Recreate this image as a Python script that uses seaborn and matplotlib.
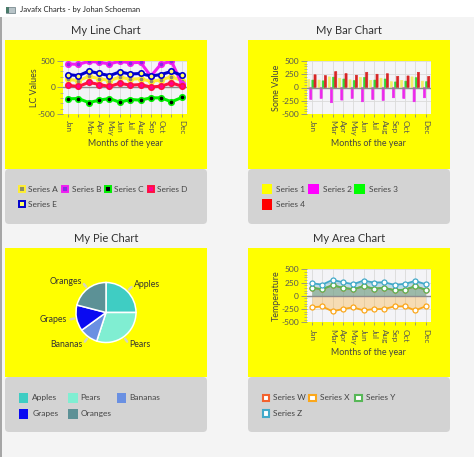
import numpy as np
import pandas as pd
import matplotlib
matplotlib.use("Agg")
import matplotlib.pyplot as plt
import seaborn as sns
from matplotlib.patches import Rectangle, FancyBboxPatch
from matplotlib.ticker import MultipleLocator

plt.rcParams['font.family'] = ['Lato', 'DejaVu Sans']

# ---------------- data ----------------
months = ['Jan', 'Feb', 'Mar', 'Apr', 'May', 'Jun', 'Jul', 'Aug', 'Sep', 'Oct', 'Nov', 'Dec']
month_ticks = ['Jan', '', 'Mar', 'Apr', 'May', 'Jun', 'Jul', 'Aug', 'Sep', 'Oct', '', 'Dec']

line_names = ['Series A', 'Series B', 'Series C', 'Series D', 'Series E']
line_a = [150, 125, 205, 165, 125, 195, 150, 165, 110, 140, 200, 125]
line_b = [440, 430, 490, 470, 440, 490, 460, 470, 210, 440, 490, 60]
line_c = [-215, -210, -287, -240, -210, -280, -228, -240, -197, -197, -272, -190]
line_d = [38, 16, 94, 53, 16, 78, 40, 53, 6, 22, 84, 22]
line_e = [240, 218, 305, 260, 220, 290, 250, 260, 212, 240, 300, 225]

bar_names = ['Series 1', 'Series 2', 'Series 3', 'Series 4']
bar_s1 = [150, 140, 200, 175, 145, 190, 135, 175, 110, 135, 200, 120]
bar_s2 = [-225, -206, -287, -237, -206, -269, -225, -244, -194, -206, -269, -194]
bar_s3 = [140, 125, 195, 160, 130, 190, 140, 160, 105, 120, 185, 110]
bar_s4 = [240, 225, 300, 262, 232, 287, 250, 260, 212, 218, 287, 210]

fruits = ['Apples', 'Pears', 'Bananas', 'Grapes', 'Oranges']
fruit_values = [25, 30, 10, 14, 21]

area_names = ['Series W', 'Series X', 'Series Y', 'Series Z']
area_w = [150, 125, 200, 150, 125, 180, 135, 150, 105, 115, 180, 115]
area_x = [-219, -200, -294, -250, -219, -275, -250, -250, -200, -200, -275, -200]
area_y = [150, 125, 200, 150, 125, 180, 135, 150, 105, 115, 180, 115]
area_z = [237, 210, 300, 256, 219, 287, 250, 256, 206, 225, 281, 219]

# ---------------- figure ----------------
W, H = 474, 457
fig = plt.figure(figsize=(W / 100, H / 100), dpi=100)
fig.patch.set_facecolor('#f4f4f4')


def px_axes(x, y, w, h, **kw):
    return fig.add_axes([x / W, 1 - (y + h) / H, w / W, h / H], **kw)


bg = px_axes(0, 0, W, H)
bg.set_xlim(0, W)
bg.set_ylim(H, 0)
bg.axis('off')

# window chrome
bg.add_patch(Rectangle((0, 0), W, 17, fc='white', ec='none'))
bg.add_patch(Rectangle((6, 7), 9, 6, fc='#b8c4c8', ec='#7a8a90', lw=0.6))
bg.add_patch(Rectangle((6, 7), 3, 6, fc='#4a7a6a', ec='none'))
bg.text(20, 9.5, 'Javafx Charts - by Johan Schoeman', fontsize=5.6, color='#222222',
        ha='left', va='center')
bg.add_patch(Rectangle((0, 17), 2.5, H - 17, fc='#a6a6a6', ec='none'))

TXT = '#333333'
panels = [(5, 40, 'My Line Chart'), (248, 40, 'My Bar Chart'),
          (5, 248, 'My Pie Chart'), (248, 248, 'My Area Chart')]
for (px, py, title) in panels:
    bg.add_patch(Rectangle((px, py), 202, 129, fc='#ffff00', ec='none'))
    bg.add_patch(FancyBboxPatch((px, py + 129), 202, 55,
                                boxstyle='round,pad=0,rounding_size=4',
                                fc='#d3d3d3', ec='none'))
    bg.text(px + 101, py - 9, title, fontsize=8, color=TXT, ha='center', va='center')


def style_axes(ax, yticks, ylabel, ylab_x):
    ax.set_facecolor('#f4f4f7')
    ax.set_xlim(-0.5, 11.5)
    ax.set_ylim(-500, 500)
    ax.set_xticks(range(12))
    ax.set_xticklabels(month_ticks, rotation=-90, fontsize=5.9, color='#555555')
    ax.set_yticks(yticks)
    ax.set_yticklabels([str(v) for v in yticks], fontsize=6, color='#555555')
    ax.yaxis.set_minor_locator(MultipleLocator(100 if len(yticks) == 3 else 50))
    ax.tick_params(axis='y', which='major', length=4, width=0.6, color='#8a8a8a', pad=1.5)
    ax.tick_params(axis='y', which='minor', length=2, width=0.5, color='#9a9a9a')
    ax.tick_params(axis='x', which='major', length=2.5, width=0.6, color='#8a8a8a', pad=2)
    ax.grid(True, which='major', color='#dadada', lw=0.6)
    ax.set_axisbelow(True)
    for s in ax.spines.values():
        s.set_visible(False)
    ax.axhline(0, color='#8c8c8c', lw=1.0, zorder=1.5)
    ax.set_xlabel('Months of the year', fontsize=6.4, color='#444444')
    ax.xaxis.set_label_coords(0.5, -30 / 53.3)
    ax.xaxis.label.set_va('center')
    ax.set_ylabel(ylabel, fontsize=6.4, color='#444444')
    ax.yaxis.set_label_coords(ylab_x, 0.5)
    ax.yaxis.label.set_va('center')
    ax.yaxis.label.set_ha('center')


idx = np.arange(len(months))

# ---------------- line chart ----------------
ax1 = px_axes(63, 60.7, 124, 53.3)
line_series = [line_a, line_b, line_c, line_d, line_e]
line_styles = [('#ffee33', '#8c8c66', '#ffee33'),
               ('#f020f0', '#8a2be2', '#f020f0'),
               ('#00ee00', '#000000', '#00ee00'),
               ('#ff1040', '#ff0090', '#ff1040'),
               ('#0000cc', '#ffff66', '#0000cc')]
for vals, (lc, mfc, mec) in zip(line_series, line_styles):
    sns.lineplot(x=idx, y=vals, ax=ax1, color=lc, lw=2.2, marker='o', markersize=3.9,
                 markerfacecolor=mfc, markeredgecolor=mec, markeredgewidth=1.2,
                 legend=False)
style_axes(ax1, [-500, 0, 500], 'LC Values', (35 - 63) / 124)

# legend line chart
leg_line = [(19, 189, 28.5), (62.3, 189, 71.8), (105, 189, 114.3), (147.7, 189, 157),
            (19, 204.3, 28.5)]
for name, (sx, sy, tx), (lc, mfc, mec) in zip(line_names, leg_line, line_styles):
    bg.add_patch(Rectangle((sx, sy - 3), 6, 6, fc=mfc, ec=mec, lw=1.4))
    bg.text(tx, sy, name, fontsize=6, color='#444444', ha='left', va='center')

# ---------------- bar chart ----------------
ax2 = px_axes(306.7, 61, 124, 53)
bar_colors = ['#f2ef6a', '#ec28ec', '#35d835', '#d82424']
df_bar = pd.DataFrame({
    'month': months * 4,
    'value': bar_s1 + bar_s2 + bar_s3 + bar_s4,
    'series': sum([[n] * 12 for n in bar_names], []),
})
sns.barplot(data=df_bar, x='month', y='value', hue='series', order=months,
            hue_order=bar_names, palette=bar_colors, ax=ax2, width=0.82, gap=0,
            saturation=1, legend=False, linewidth=0.45)
for p in ax2.patches:
    p.set_edgecolor(p.get_facecolor())
    p.set_snap(False)
style_axes(ax2, [-500, -250, 0, 250, 500], 'Some Value', (276.7 - 306.7) / 124)

leg_bar = [(262, 189, 276), (308.3, 189, 322.7), (354.3, 189, 368.7), (262, 204.5, 276)]
leg_bar_colors = ['#ffff00', '#ff00ff', '#00ff00', '#ff0000']
for name, (sx, sy, tx), c in zip(bar_names, leg_bar, leg_bar_colors):
    bg.add_patch(Rectangle((sx, sy - 5.2), 10.5, 10.5, fc=c, ec='none'))
    bg.text(tx, sy, name, fontsize=6, color='#444444', ha='left', va='center')

# ---------------- pie chart ----------------
cx, cy, R = 106, 312.5, 30
axp = px_axes(cx - 2 * R, cy - 2 * R, 4 * R, 4 * R)
pie_colors = ['#3fcdc3', '#80eed2', '#6a90e2', '#0a0af2', '#5c9196']
wedges, texts = axp.pie(fruit_values, labels=fruits, colors=pie_colors, startangle=90,
                        counterclock=False, labeldistance=1.32,
                        wedgeprops=dict(edgecolor='white', linewidth=1.1),
                        textprops=dict(fontsize=6.3, color='#333333'))
for w in wedges:
    ang = np.deg2rad((w.theta1 + w.theta2) / 2)
    axp.plot([1.08 * np.cos(ang), 1.2 * np.cos(ang)], [1.08 * np.sin(ang), 1.2 * np.sin(ang)],
             color='#d6d6c0', lw=1.8, solid_capstyle='round', clip_on=False)
for t in texts:
    t.set_clip_on(False)
axp.set_xlim(-2, 2)
axp.set_ylim(-2, 2)
axp.set_aspect('equal')
axp.axis('off')

leg_pie = [(19, 397.8, 32.3), (68.3, 397.8, 80.7), (116.7, 397.8, 129.3),
           (19, 413.8, 32.3), (68.3, 413.8, 80.7)]
for name, (sx, sy, tx), c in zip(fruits, leg_pie, pie_colors):
    bg.add_patch(Rectangle((sx, sy - 4.6), 9.5, 9.5, fc=c, ec='none'))
    bg.text(tx, sy, name, fontsize=6, color='#444444', ha='left', va='center')

# ---------------- area chart ----------------
ax4 = px_axes(306.7, 269.3, 124, 53)
area_series = [area_w, area_x, area_y, area_z]
area_colors = ['#f3622d', '#fba71b', '#57b757', '#41a9c9']
for vals, c in zip(area_series, area_colors):
    ax4.fill_between(idx, 0, vals, color=c, alpha=0.3, lw=0)
for vals, c in zip(area_series, area_colors):
    sns.lineplot(x=idx, y=vals, ax=ax4, color=c, lw=1.3, marker='o', markersize=3.6,
                 markerfacecolor='white', markeredgecolor=c, markeredgewidth=0.9,
                 legend=False)
style_axes(ax4, [-500, -250, 0, 250, 500], 'Temperature', (276.7 - 306.7) / 124)

leg_area = [(262.7, 398, 273.3), (309.3, 398, 320), (355, 398, 366), (262.7, 413.5, 273.3)]
for name, (sx, sy, tx), c in zip(area_names, leg_area, area_colors):
    bg.add_patch(Rectangle((sx, sy - 3.3), 6.6, 6.6, fc='white', ec=c, lw=1.5))
    bg.text(tx, sy, name, fontsize=6, color='#444444', ha='left', va='center')

fig.savefig('out.png', dpi=100, facecolor=fig.get_facecolor())
